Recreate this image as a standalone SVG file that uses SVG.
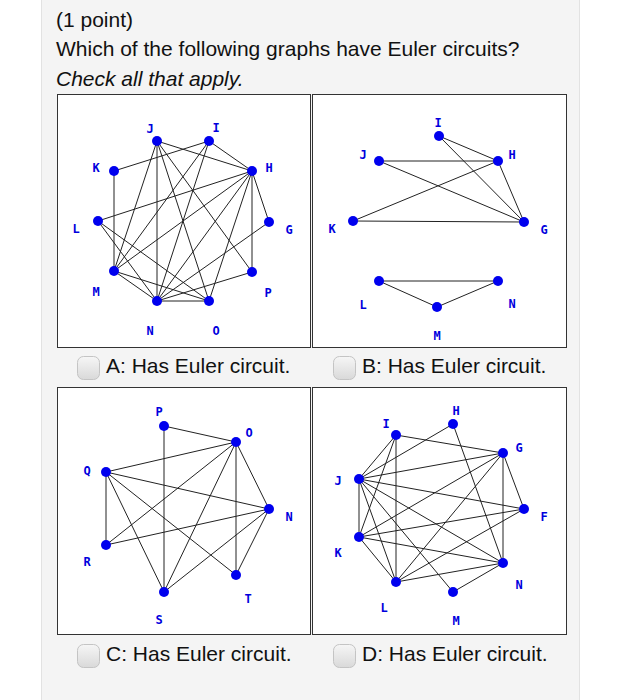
<svg xmlns="http://www.w3.org/2000/svg" width="622" height="700" viewBox="0 0 622 700">
<style>
.pg{fill:#f4f4f4}
.panel{fill:#fff;stroke:#333;stroke-width:1}
.e{stroke:#222;stroke-width:1;fill:none}
.dot{fill:#0000ee}
.lb{font-family:"DejaVu Sans Mono",monospace;font-weight:bold;font-size:12px;fill:#0000dd;text-anchor:middle}
.t{font-family:"Liberation Sans",Arial,sans-serif;font-size:21px;fill:#111}
.c{font-family:"Liberation Sans",Arial,sans-serif;font-size:21px;fill:#111}
.cb{fill:url(#cbg);stroke:#c4c4c4;stroke-width:1}
</style>
<defs>
<linearGradient id="cbg" x1="0" y1="0" x2="0" y2="1">
<stop offset="0" stop-color="#f6f6f6"/>
<stop offset="1" stop-color="#d9d9d9"/>
</linearGradient>
</defs>
<rect x="0" y="0" width="622" height="700" fill="#fff"/>
<rect class="pg" x="41" y="0" width="539" height="700"/>
<line x1="41.5" y1="0" x2="41.5" y2="700" stroke="#e2e2e2"/>
<line x1="579.5" y1="0" x2="579.5" y2="700" stroke="#e2e2e2"/>
<g id="header">
<text class="t" x="56" y="27">(1 point)</text>
<text class="t" x="56" y="56">Which of the following graphs have Euler circuits?</text>
<text class="t" x="56" y="86" font-style="italic">Check all that apply.</text>
</g>
<g id="panels">
<rect class="panel" x="57.5" y="94.5" width="253" height="253"/>
<rect class="panel" x="312.5" y="94.5" width="254" height="253"/>
<rect class="panel" x="57.5" y="387.5" width="253" height="247"/>
<rect class="panel" x="312.5" y="387.5" width="254" height="247"/>
</g>
<g id="connectors">
<g id="edgesA">
<line class="e" x1="157" y1="141" x2="252" y2="171"/>
<line class="e" x1="157" y1="141" x2="252" y2="272"/>
<line class="e" x1="157" y1="141" x2="209" y2="301"/>
<line class="e" x1="157" y1="141" x2="157" y2="301"/>
<line class="e" x1="157" y1="141" x2="114" y2="271"/>
<line class="e" x1="209" y1="141" x2="114" y2="171"/>
<line class="e" x1="209" y1="141" x2="252" y2="171"/>
<line class="e" x1="209" y1="141" x2="114" y2="271"/>
<line class="e" x1="209" y1="141" x2="157" y2="301"/>
<line class="e" x1="114" y1="171" x2="114" y2="271"/>
<line class="e" x1="98" y1="221" x2="252" y2="171"/>
<line class="e" x1="98" y1="221" x2="209" y2="301"/>
<line class="e" x1="98" y1="221" x2="157" y2="301"/>
<line class="e" x1="252" y1="171" x2="114" y2="271"/>
<line class="e" x1="252" y1="171" x2="157" y2="301"/>
<line class="e" x1="252" y1="171" x2="209" y2="301"/>
<line class="e" x1="252" y1="171" x2="269" y2="222"/>
<line class="e" x1="252" y1="171" x2="252" y2="272"/>
<line class="e" x1="269" y1="222" x2="157" y2="301"/>
<line class="e" x1="252" y1="272" x2="157" y2="301"/>
<line class="e" x1="114" y1="271" x2="209" y2="301"/>
<line class="e" x1="114" y1="271" x2="157" y2="301"/>
<line class="e" x1="157" y1="301" x2="209" y2="301"/>
</g>
<g id="edgesB">
<line class="e" x1="439" y1="136" x2="498" y2="161"/>
<line class="e" x1="439" y1="136" x2="524" y2="222"/>
<line class="e" x1="379" y1="161" x2="498" y2="161"/>
<line class="e" x1="379" y1="161" x2="524" y2="222"/>
<line class="e" x1="353" y1="221" x2="498" y2="161"/>
<line class="e" x1="353" y1="221" x2="524" y2="222"/>
<line class="e" x1="498" y1="161" x2="524" y2="222"/>
<line class="e" x1="379" y1="281" x2="498" y2="281"/>
<line class="e" x1="379" y1="281" x2="437" y2="307"/>
<line class="e" x1="437" y1="307" x2="498" y2="281"/>
</g>
<g id="edgesC">
<line class="e" x1="164" y1="426" x2="236" y2="442"/>
<line class="e" x1="164" y1="426" x2="164" y2="592"/>
<line class="e" x1="236" y1="442" x2="106" y2="472"/>
<line class="e" x1="236" y1="442" x2="269" y2="509"/>
<line class="e" x1="236" y1="442" x2="236" y2="575"/>
<line class="e" x1="236" y1="442" x2="164" y2="592"/>
<line class="e" x1="236" y1="442" x2="106" y2="545"/>
<line class="e" x1="106" y1="472" x2="106" y2="545"/>
<line class="e" x1="106" y1="472" x2="269" y2="509"/>
<line class="e" x1="106" y1="472" x2="236" y2="575"/>
<line class="e" x1="106" y1="472" x2="164" y2="592"/>
<line class="e" x1="269" y1="509" x2="106" y2="545"/>
<line class="e" x1="269" y1="509" x2="164" y2="592"/>
<line class="e" x1="269" y1="509" x2="236" y2="575"/>
</g>
<g id="edgesD">
<line class="e" x1="396" y1="435" x2="503" y2="453"/>
<line class="e" x1="396" y1="435" x2="359" y2="479"/>
<line class="e" x1="396" y1="435" x2="359" y2="537"/>
<line class="e" x1="396" y1="435" x2="396" y2="582"/>
<line class="e" x1="453" y1="424" x2="359" y2="479"/>
<line class="e" x1="453" y1="424" x2="503" y2="563"/>
<line class="e" x1="503" y1="453" x2="359" y2="479"/>
<line class="e" x1="503" y1="453" x2="359" y2="537"/>
<line class="e" x1="503" y1="453" x2="396" y2="582"/>
<line class="e" x1="503" y1="453" x2="524" y2="509"/>
<line class="e" x1="503" y1="453" x2="503" y2="563"/>
<line class="e" x1="359" y1="479" x2="524" y2="509"/>
<line class="e" x1="359" y1="479" x2="359" y2="537"/>
<line class="e" x1="359" y1="479" x2="503" y2="563"/>
<line class="e" x1="359" y1="479" x2="396" y2="582"/>
<line class="e" x1="359" y1="479" x2="453" y2="592"/>
<line class="e" x1="359" y1="537" x2="524" y2="509"/>
<line class="e" x1="359" y1="537" x2="503" y2="563"/>
<line class="e" x1="359" y1="537" x2="396" y2="582"/>
<line class="e" x1="396" y1="582" x2="503" y2="563"/>
<line class="e" x1="396" y1="582" x2="524" y2="509"/>
<line class="e" x1="453" y1="592" x2="503" y2="563"/>
</g>
</g>
<g id="nodesA">
<g id="A-J"><circle class="dot" cx="157" cy="141" r="5"/><text class="lb" x="150" y="133">J</text></g>
<g id="A-I"><circle class="dot" cx="209" cy="141" r="5"/><text class="lb" x="216" y="132">I</text></g>
<g id="A-K"><circle class="dot" cx="114" cy="171" r="5"/><text class="lb" x="96" y="172">K</text></g>
<g id="A-H"><circle class="dot" cx="252" cy="171" r="5"/><text class="lb" x="269" y="172">H</text></g>
<g id="A-L"><circle class="dot" cx="98" cy="221" r="5"/><text class="lb" x="76" y="233">L</text></g>
<g id="A-G"><circle class="dot" cx="269" cy="222" r="5"/><text class="lb" x="289" y="234">G</text></g>
<g id="A-M"><circle class="dot" cx="114" cy="271" r="5"/><text class="lb" x="96" y="296">M</text></g>
<g id="A-P"><circle class="dot" cx="252" cy="272" r="5"/><text class="lb" x="268" y="297">P</text></g>
<g id="A-N"><circle class="dot" cx="157" cy="301" r="5"/><text class="lb" x="150" y="335">N</text></g>
<g id="A-O"><circle class="dot" cx="209" cy="301" r="5"/><text class="lb" x="216" y="335">O</text></g>
</g>
<g id="nodesB">
<g id="B-I"><circle class="dot" cx="439" cy="136" r="5"/><text class="lb" x="438" y="127">I</text></g>
<g id="B-J"><circle class="dot" cx="379" cy="161" r="5"/><text class="lb" x="363" y="159">J</text></g>
<g id="B-H"><circle class="dot" cx="498" cy="161" r="5"/><text class="lb" x="512" y="159">H</text></g>
<g id="B-K"><circle class="dot" cx="353" cy="221" r="5"/><text class="lb" x="332" y="233">K</text></g>
<g id="B-G"><circle class="dot" cx="524" cy="222" r="5"/><text class="lb" x="544" y="234">G</text></g>
<g id="B-L"><circle class="dot" cx="379" cy="281" r="5"/><text class="lb" x="363" y="309">L</text></g>
<g id="B-N"><circle class="dot" cx="498" cy="281" r="5"/><text class="lb" x="512" y="308">N</text></g>
<g id="B-M"><circle class="dot" cx="437" cy="307" r="5"/><text class="lb" x="437" y="340">M</text></g>
</g>
<g id="nodesC">
<g id="C-P"><circle class="dot" cx="164" cy="426" r="5"/><text class="lb" x="159" y="416">P</text></g>
<g id="C-O"><circle class="dot" cx="236" cy="442" r="5"/><text class="lb" x="249" y="437">O</text></g>
<g id="C-Q"><circle class="dot" cx="106" cy="472" r="5"/><text class="lb" x="87" y="475">Q</text></g>
<g id="C-N"><circle class="dot" cx="269" cy="509" r="5"/><text class="lb" x="289" y="521">N</text></g>
<g id="C-R"><circle class="dot" cx="106" cy="545" r="5"/><text class="lb" x="87" y="566">R</text></g>
<g id="C-T"><circle class="dot" cx="236" cy="575" r="5"/><text class="lb" x="248" y="603">T</text></g>
<g id="C-S"><circle class="dot" cx="164" cy="592" r="5"/><text class="lb" x="159" y="624">S</text></g>
</g>
<g id="nodesD">
<g id="D-H"><circle class="dot" cx="453" cy="424" r="5"/><text class="lb" x="456" y="415">H</text></g>
<g id="D-I"><circle class="dot" cx="396" cy="435" r="5"/><text class="lb" x="386" y="428">I</text></g>
<g id="D-G"><circle class="dot" cx="503" cy="453" r="5"/><text class="lb" x="519" y="452">G</text></g>
<g id="D-J"><circle class="dot" cx="359" cy="479" r="5"/><text class="lb" x="338" y="485">J</text></g>
<g id="D-F"><circle class="dot" cx="524" cy="509" r="5"/><text class="lb" x="544" y="521">F</text></g>
<g id="D-K"><circle class="dot" cx="359" cy="537" r="5"/><text class="lb" x="338" y="557">K</text></g>
<g id="D-N"><circle class="dot" cx="503" cy="563" r="5"/><text class="lb" x="519" y="589">N</text></g>
<g id="D-L"><circle class="dot" cx="396" cy="582" r="5"/><text class="lb" x="384" y="612">L</text></g>
<g id="D-M"><circle class="dot" cx="453" cy="592" r="5"/><text class="lb" x="456" y="625">M</text></g>
</g>
<g id="options">
<rect class="cb" x="77.5" y="356.5" width="22" height="23" rx="6"/>
<text class="c" x="106" y="373">A: Has Euler circuit.</text>
<rect class="cb" x="333.5" y="356.5" width="22" height="23" rx="6"/>
<text class="c" x="362" y="373">B: Has Euler circuit.</text>
<rect class="cb" x="77.5" y="644.5" width="22" height="23" rx="6"/>
<text class="c" x="106" y="661">C: Has Euler circuit.</text>
<rect class="cb" x="333.5" y="644.5" width="22" height="23" rx="6"/>
<text class="c" x="362" y="661">D: Has Euler circuit.</text>
</g>
</svg>
